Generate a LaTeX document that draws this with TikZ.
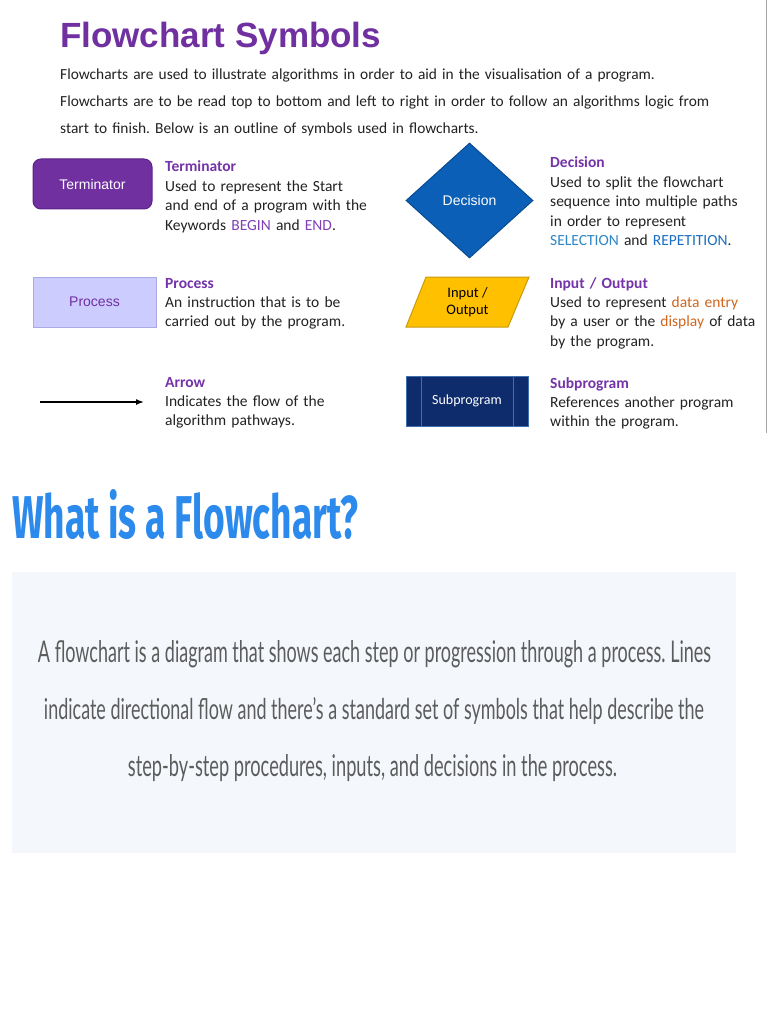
\documentclass[tikz,border=0pt]{standalone}
\usepackage{fontspec}
\usepackage{graphicx}
\setmainfont{Carlito}
\newfontfamily\arialfont{Liberation Sans}
\newfontfamily\webfont{Fira Sans}
\newfontfamily\panelfont{Lato}
\usetikzlibrary{arrows.meta,shapes.geometric}
\frenchspacing
\definecolor{symbpurple}{HTML}{7030A0}
\definecolor{headpurple}{HTML}{7434A8}
\definecolor{kwpurple}{HTML}{8040B8}
\definecolor{termedge}{HTML}{5A2286}
\definecolor{procfill}{HTML}{CCCCFF}
\definecolor{procedge}{HTML}{A9A9E6}
\definecolor{decfill}{HTML}{0B5FB6}
\definecolor{decedge}{HTML}{0A4A90}
\definecolor{iofill}{HTML}{FFC000}
\definecolor{ioedge}{HTML}{C89A10}
\definecolor{subfill}{HTML}{0E2B6C}
\definecolor{subedge}{HTML}{3F6FAE}
\definecolor{selblue}{HTML}{2E86C6}
\definecolor{repblue}{HTML}{1B6EC2}
\definecolor{dataorange}{HTML}{D0651E}
\definecolor{webblue}{HTML}{2C8AEC}
\definecolor{panelbg}{HTML}{F4F7FB}
\definecolor{panelgray}{HTML}{5C5C5C}
\definecolor{bodytext}{HTML}{222222}

\begin{document}
\begin{tikzpicture}[x=1pt,y=-1pt,>=Latex,
  desc/.style={anchor=base west,inner sep=0pt,text width=220pt,align=left,text=bodytext,font=\fontsize{15.5}{19.4}\selectfont},
  symb/.style={draw,line width=1pt,inner sep=0pt,minimum height=50pt},
  panelline/.style={anchor=base,inner sep=0pt,text=panelgray}]
\useasboundingbox[fill=white] (0,0) rectangle (768,1024);
\draw[gray!70,line width=1pt] (766,0) -- (766,433);

\node[anchor=base west,inner sep=0pt,text=symbpurple,font=\arialfont\bfseries\fontsize{35}{40}\selectfont] (title) at (60,48) {Flowchart Symbols};
\node[anchor=base west,inner sep=0pt,text width=700pt,align=left,text=bodytext,font=\fontsize{15.4}{27}\selectfont] (intro) at (60,80)
  {Flowcharts are used to illustrate algorithms in order to aid in the visualisation of a program.\\
   Flowcharts are to be read top to bottom and left to right in order to follow an algorithms logic from\\
   start to finish. Below is an outline of symbols used in flowcharts.};

\node[symb,rounded corners=8pt,fill=symbpurple,draw=termedge,minimum width=119pt,text=white,font=\arialfont\fontsize{14}{16}\selectfont] (term) at (92.5,184) {Terminator};
\node[symb,fill=procfill,draw=procedge,minimum width=123pt,text=symbpurple,font=\arialfont\fontsize{14}{16}\selectfont] (proc) at (94.5,302) {Process};
\coordinate (arrfrom) at (40,402);
\coordinate (arrto) at (144,402);
\draw[line width=1.5pt,-{Latex[length=8pt,width=6pt]}] (arrfrom) -- (arrto);

\node[diamond,draw=decedge,line width=1pt,fill=decfill,inner sep=0pt,minimum width=127pt,minimum height=115pt,text=white,font=\arialfont\fontsize{14}{16}\selectfont] (dec) at (469.5,200.5) {Decision};
\filldraw[fill=iofill,draw=ioedge,line width=1pt] (426,277) -- (529,277) -- (508,327) -- (406,327) -- cycle;
\node[align=center,inner sep=0pt,font=\fontsize{14.5}{17}\selectfont] (io) at (467.5,302) {Input /\\Output};
\node[symb,fill=subfill,draw=subedge,minimum width=122pt,text=white,font=\fontsize{14}{16}\selectfont] (sub) at (467,401) {Subprogram};
\draw[subedge,line width=1pt] ([xshift=16pt]sub.north west) -- ([xshift=16pt]sub.south west);
\draw[subedge,line width=1pt] ([xshift=-15pt]sub.north east) -- ([xshift=-15pt]sub.south east);

\node[desc] (termtxt) at (165,172) {\textcolor{headpurple}{\bfseries Terminator}\\Used to represent the Start\\and end of a program with the\\Keywords \textcolor{kwpurple}{BEGIN} and \textcolor{kwpurple}{END}.};
\node[desc] (proctxt) at (165,288) {\textcolor{headpurple}{\bfseries Process}\\An instruction that is to be\\carried out by the program.};
\node[desc] (arrtxt) at (165,387) {\textcolor{headpurple}{\bfseries Arrow}\\Indicates the flow of the\\algorithm pathways.};
\node[desc] (dectxt) at (550,168) {\textcolor{headpurple}{\bfseries Decision}\\Used to split the flowchart\\sequence into multiple paths\\in order to represent\\\textcolor{selblue}{SELECTION} and \textcolor{repblue}{REPETITION}.};
\node[desc] (iotxt) at (550,288) {\textcolor{headpurple}{\bfseries Input / Output}\\Used to represent \textcolor{dataorange}{data entry}\\by a user or the \textcolor{dataorange}{display} of data\\by the program.};
\node[desc] (subtxt) at (550,388) {\textcolor{headpurple}{\bfseries Subprogram}\\References another program\\within the program.};

\node[anchor=base west,inner sep=0pt,text=webblue] (what) at (12,538) {\resizebox{346pt}{49pt}{\webfont\bfseries What is a Flowchart?}};
\node[fill=panelbg,inner sep=0pt,minimum width=724pt,minimum height=281pt] (panel) at (374,712.5) {};
\node[panelline] (line1) at (374.5,662) {\resizebox{673pt}{22pt}{\panelfont A flowchart is a diagram that shows each step or progression through a process. Lines}};
\node[panelline] (line2) at (374,719) {\resizebox{660pt}{22pt}{\panelfont indicate directional flow and there’s a standard set of symbols that help describe the}};
\node[panelline] (line3) at (372.5,776) {\resizebox{489pt}{22pt}{\panelfont step-by-step procedures, inputs, and decisions in the process.}};
\end{tikzpicture}
\end{document}
